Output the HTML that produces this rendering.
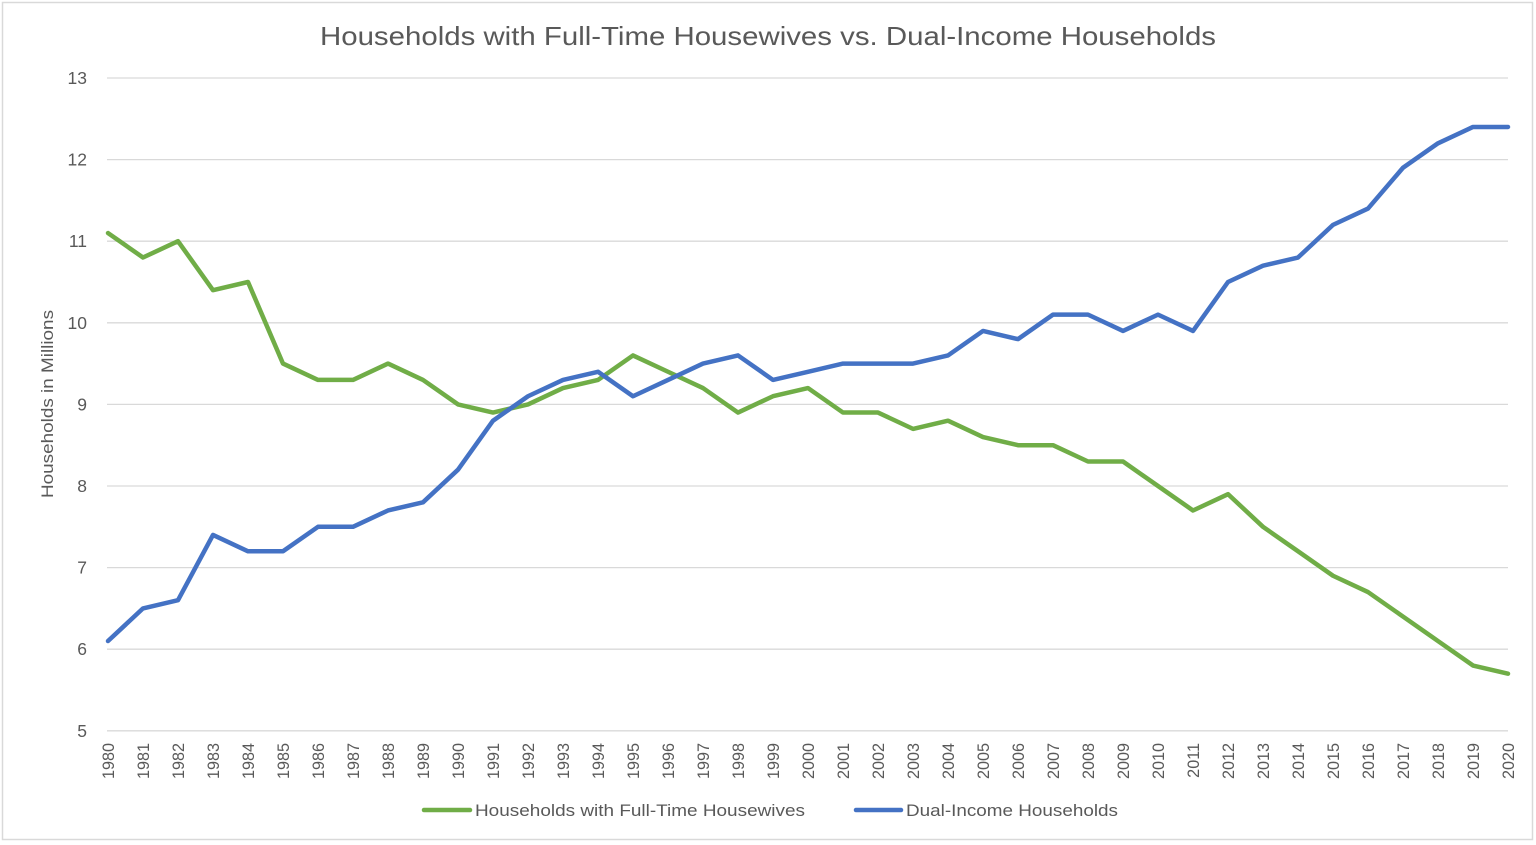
<!DOCTYPE html>
<html><head><meta charset="utf-8"><style>
html,body{margin:0;padding:0;background:#fff;}
svg{display:block;}
text{font-family:"Liberation Sans",Arial,sans-serif;fill:#595959;}
</style></head><body>
<svg width="1536" height="845" viewBox="0 0 1536 845" xmlns="http://www.w3.org/2000/svg">
<rect x="0" y="0" width="1536" height="845" fill="#fff"/>
<rect x="2.5" y="2.5" width="1530" height="837" fill="none" stroke="#d9d9d9" stroke-width="1.5"/>
<text x="768" y="45" font-size="26" text-anchor="middle" textLength="896" lengthAdjust="spacingAndGlyphs">Households with Full-Time Housewives vs. Dual-Income Households</text>
<g stroke="#d9d9d9" stroke-width="1.3">
<line x1="107" y1="78" x2="1508" y2="78"/>
<line x1="107" y1="159.6" x2="1508" y2="159.6"/>
<line x1="107" y1="241.2" x2="1508" y2="241.2"/>
<line x1="107" y1="322.8" x2="1508" y2="322.8"/>
<line x1="107" y1="404.4" x2="1508" y2="404.4"/>
<line x1="107" y1="486" x2="1508" y2="486"/>
<line x1="107" y1="567.6" x2="1508" y2="567.6"/>
<line x1="107" y1="649.2" x2="1508" y2="649.2"/>
<line x1="107" y1="730.8" x2="1508" y2="730.8"/>
</g>
<g font-size="17.5" text-anchor="end">
<text x="87" y="84">13</text>
<text x="87" y="165.6">12</text>
<text x="87" y="247.2">11</text>
<text x="87" y="328.8">10</text>
<text x="87" y="410.4">9</text>
<text x="87" y="492">8</text>
<text x="87" y="573.6">7</text>
<text x="87" y="655.2">6</text>
<text x="87" y="736.8">5</text>
</g>
<text transform="translate(53,404) rotate(-90)" font-size="17" text-anchor="middle" textLength="188" lengthAdjust="spacingAndGlyphs">Households in Millions</text>
<g font-size="16.2" text-anchor="end">
<text transform="translate(113.8,743) rotate(-90)">1980</text>
<text transform="translate(148.8,743) rotate(-90)">1981</text>
<text transform="translate(183.8,743) rotate(-90)">1982</text>
<text transform="translate(218.8,743) rotate(-90)">1983</text>
<text transform="translate(253.8,743) rotate(-90)">1984</text>
<text transform="translate(288.8,743) rotate(-90)">1985</text>
<text transform="translate(323.8,743) rotate(-90)">1986</text>
<text transform="translate(358.8,743) rotate(-90)">1987</text>
<text transform="translate(393.8,743) rotate(-90)">1988</text>
<text transform="translate(428.8,743) rotate(-90)">1989</text>
<text transform="translate(463.8,743) rotate(-90)">1990</text>
<text transform="translate(498.8,743) rotate(-90)">1991</text>
<text transform="translate(533.8,743) rotate(-90)">1992</text>
<text transform="translate(568.8,743) rotate(-90)">1993</text>
<text transform="translate(603.8,743) rotate(-90)">1994</text>
<text transform="translate(638.8,743) rotate(-90)">1995</text>
<text transform="translate(673.8,743) rotate(-90)">1996</text>
<text transform="translate(708.8,743) rotate(-90)">1997</text>
<text transform="translate(743.8,743) rotate(-90)">1998</text>
<text transform="translate(778.8,743) rotate(-90)">1999</text>
<text transform="translate(813.8,743) rotate(-90)">2000</text>
<text transform="translate(848.8,743) rotate(-90)">2001</text>
<text transform="translate(883.8,743) rotate(-90)">2002</text>
<text transform="translate(918.8,743) rotate(-90)">2003</text>
<text transform="translate(953.8,743) rotate(-90)">2004</text>
<text transform="translate(988.8,743) rotate(-90)">2005</text>
<text transform="translate(1023.8,743) rotate(-90)">2006</text>
<text transform="translate(1058.8,743) rotate(-90)">2007</text>
<text transform="translate(1093.8,743) rotate(-90)">2008</text>
<text transform="translate(1128.8,743) rotate(-90)">2009</text>
<text transform="translate(1163.8,743) rotate(-90)">2010</text>
<text transform="translate(1198.8,743) rotate(-90)">2011</text>
<text transform="translate(1233.8,743) rotate(-90)">2012</text>
<text transform="translate(1268.8,743) rotate(-90)">2013</text>
<text transform="translate(1303.8,743) rotate(-90)">2014</text>
<text transform="translate(1338.8,743) rotate(-90)">2015</text>
<text transform="translate(1373.8,743) rotate(-90)">2016</text>
<text transform="translate(1408.8,743) rotate(-90)">2017</text>
<text transform="translate(1443.8,743) rotate(-90)">2018</text>
<text transform="translate(1478.8,743) rotate(-90)">2019</text>
<text transform="translate(1513.8,743) rotate(-90)">2020</text>
</g>
<polyline fill="none" stroke="#70AD47" stroke-width="4.5" stroke-linejoin="round" stroke-linecap="round" points="108,233.04 143,257.52 178,241.2 213,290.16 248,282 283,363.6 318,379.92 353,379.92 388,363.6 423,379.92 458,404.4 493,412.56 528,404.4 563,388.08 598,379.92 633,355.44 668,371.76 703,388.08 738,412.56 773,396.24 808,388.08 843,412.56 878,412.56 913,428.88 948,420.72 983,437.04 1018,445.2 1053,445.2 1088,461.52 1123,461.52 1158,486 1193,510.48 1228,494.16 1263,526.8 1298,551.28 1333,575.76 1368,592.08 1403,616.56 1438,641.04 1473,665.52 1508,673.68"/>
<polyline fill="none" stroke="#4472C4" stroke-width="4.5" stroke-linejoin="round" stroke-linecap="round" points="108,641.04 143,608.4 178,600.24 213,534.96 248,551.28 283,551.28 318,526.8 353,526.8 388,510.48 423,502.32 458,469.68 493,420.72 528,396.24 563,379.92 598,371.76 633,396.24 668,379.92 703,363.6 738,355.44 773,379.92 808,371.76 843,363.6 878,363.6 913,363.6 948,355.44 983,330.96 1018,339.12 1053,314.64 1088,314.64 1123,330.96 1158,314.64 1193,330.96 1228,282 1263,265.68 1298,257.52 1333,224.88 1368,208.56 1403,167.76 1438,143.28 1473,126.96 1508,126.96"/>
<line x1="424" y1="810" x2="470" y2="810" stroke="#70AD47" stroke-width="4.5" stroke-linecap="round"/>
<text x="475" y="816" font-size="17" textLength="330" lengthAdjust="spacingAndGlyphs">Households with Full-Time Housewives</text>
<line x1="856" y1="810" x2="901" y2="810" stroke="#4472C4" stroke-width="4.5" stroke-linecap="round"/>
<text x="906" y="816" font-size="17" textLength="212" lengthAdjust="spacingAndGlyphs">Dual-Income Households</text>
</svg>
</body></html>
